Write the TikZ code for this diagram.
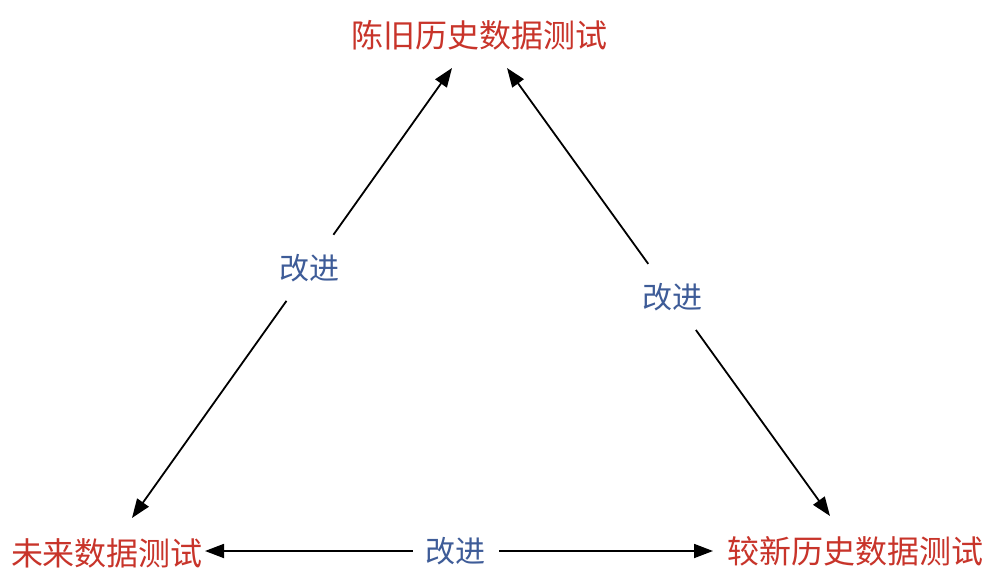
\documentclass[tikz,border=0pt]{standalone}
\usepackage{fontspec}
\newfontfamily\cjk{Noto Sans CJK SC}
\usetikzlibrary{arrows.meta}
\definecolor{titlered}{RGB}{200,52,42}
\definecolor{labelblue}{RGB}{62,92,152}
\begin{document}
\begin{tikzpicture}[x=1pt,y=-1pt,
  corner/.style={text=titlered,font=\cjk\fontsize{32}{34}\selectfont,inner sep=0pt},
  improve/.style={text=labelblue,font=\cjk\fontsize{30}{32}\selectfont,inner xsep=13pt,inner ysep=19pt},
  arr/.style={line width=1.8pt,-{Triangle[length=19pt,width=14pt]}}]
\useasboundingbox[fill=white] (0,0) rectangle (994,586);
% corner texts
\node[corner] (top) at (479,35) {陈旧历史数据测试};
\node[corner] (bl) at (107,553) {未来数据测试};
\node[corner] (br) at (855,551) {较新历史数据测试};
% arrow tips
\coordinate (tTopL) at (452,68);
\coordinate (tBL) at (132,518);
\coordinate (tTopR) at (507,68);
\coordinate (tBR) at (830,516);
\coordinate (tBotL) at (205,551);
\coordinate (tBotR) at (713,551);
% labels
\path (tTopL) -- (tBL) node[improve,pos=0.444] (l1) {改进};
\path (tTopR) -- (tBR) node[improve,pos=0.511] (l2) {改进};
\path (tBotL) -- (tBotR) node[improve,pos=0.494] (l3) {改进};
% connectors
\draw[arr] (l1) -- (tTopL);
\draw[arr] (l1) -- (tBL);
\draw[arr] (l2) -- (tTopR);
\draw[arr] (l2) -- (tBR);
\draw[arr] (l3) -- (tBotL);
\draw[arr] (l3) -- (tBotR);
\end{tikzpicture}
\end{document}
